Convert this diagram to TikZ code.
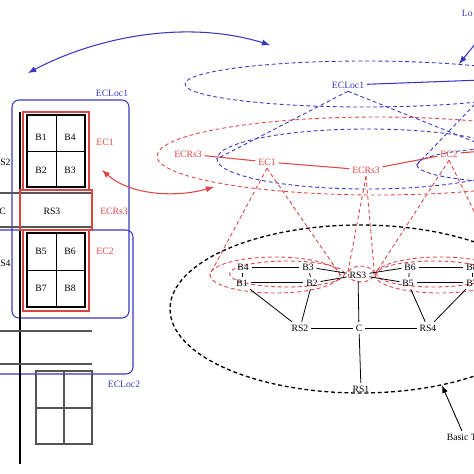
\documentclass[tikz,border=0pt]{standalone}
\usepackage{fontspec}
\setmainfont{Liberation Serif}
\usetikzlibrary{shapes}
\usetikzlibrary{arrows}
\definecolor{locblue}{RGB}{55,55,195}
\definecolor{ecred}{RGB}{222,68,68}
\definecolor{rsgray}{RGB}{85,85,85}

\begin{document}
\begin{tikzpicture}[x=0.02cm,y=-0.02cm,
  every node/.style={font=\fontsize{5.5}{6.5}\selectfont,inner sep=1.5pt},
  redlbl/.style={text=ecred},
  bluelbl/.style={text=locblue},
  rdash/.style={draw=ecred,dash pattern=on 2.2pt off 1.6pt,line width=0.5pt},
  bdash/.style={draw=locblue,dash pattern=on 2.2pt off 1.6pt,line width=0.5pt},
  kdash/.style={draw=black,dash pattern=on 2.2pt off 1.6pt,line width=0.75pt},
  ring/.style={ellipse,inner sep=0pt},
  edge/.style={black,line width=0.45pt},
  dbl/.style={black,double,double distance=0.5pt,line width=0.35pt}
  ]
\useasboundingbox (0,0) rectangle (474,474);

% left panel: location boxes
\draw[locblue,rounded corners=4,line width=0.6pt] (12,100) rectangle (129,318);
\draw[locblue,rounded corners=4,line width=0.6pt] (-10,230) rectangle (133,374);
\node[bluelbl] (loclbla) at (112,93) {ECLoc1};
\node[bluelbl] (loclblb) at (124,384) {ECLoc2};

\draw[black,line width=1pt] (20,112) -- (20,464);
\draw[rsgray,line width=0.9pt] (0,193) -- (92,193) (0,227) -- (92,227)
  (0,331) -- (92,331) (0,364) -- (92,364);

\draw[ecred,line width=0.7pt] (23,112) rectangle (89,190);
\draw[ecred,line width=0.6pt] (20,190) rectangle (92,230);
\draw[ecred,line width=0.7pt] (23,230) rectangle (89,311);

% cluster EC1
\draw[line width=0.9pt] (27,115) rectangle (85,187);
\draw[line width=0.5pt] (56,115) -- (56,187) (27,151) -- (85,151);
\node (pb1) at (41,137) {B1};
\node (pb4) at (70,137) {B4};
\node (pb2) at (41,170) {B2};
\node (pb3) at (70,170) {B3};
% cluster EC2
\draw[line width=0.9pt] (27,233) rectangle (85,307);
\draw[line width=0.5pt] (56,233) -- (56,307) (27,270) -- (85,270);
\node (pb5) at (41,251) {B5};
\node (pb6) at (70,251) {B6};
\node (pb7) at (41,288) {B7};
\node (pb8) at (70,288) {B8};
% empty cluster
\draw[rsgray,line width=0.7pt] (36,371) rectangle (92,444);
\draw[rsgray,line width=0.6pt] (64,371) -- (64,444) (36,408) -- (92,408);

\node (prs3) at (52,211) {RS3};
\node[anchor=west,inner sep=0pt] (prs2) at (0,162) {S2};
\node[anchor=west,inner sep=0pt] (prs4) at (0,263) {S4};
\node[anchor=west,inner sep=0pt] (pc) at (-1,211) {C};
\node[redlbl] (pec1) at (105,142) {EC1};
\node[redlbl] (pecrs) at (114,211) {ECRs3};
\node[redlbl] (pec2) at (105,251) {EC2};

% arrows between the views
\coordinate (topl) at (28,73);
\coordinate (topr) at (270,45);
\draw[locblue,latex-latex,line width=0.6pt] (topl) .. controls (100,35) and (190,20) .. (topr);
\coordinate (redl) at (102,170);
\coordinate (redr) at (214,187);
\draw[ecred,latex-latex,line width=0.6pt] (redl) .. controls (130,195) and (175,198) .. (redr);

% location and cluster rings
\node[ring,bdash,minimum width=7.2cm,minimum height=0.92cm] (locring) at (365,84) {};
\node[ring,rdash,minimum width=8.8cm,minimum height=1.56cm] (rsring) at (377,156) {};
\node[ring,bdash,minimum width=6cm,minimum height=1.2cm] (locringa) at (367,159) {};
\node[ring,bdash,minimum width=4.52cm,minimum height=0.72cm] (locringb) at (530,165) {};
\node[ring,kdash,minimum width=7.6cm,minimum height=3.36cm] (basic) at (360,309) {};
\node[ring,rdash,minimum width=2.6cm,minimum height=0.72cm] (ecringa) at (275,275) {};
\node[ring,rdash,minimum width=2.3cm,minimum height=0.52cm] (ecringaa) at (287,274) {};
\node[ring,rdash,minimum width=0.52cm,minimum height=0.32cm] (ecringr) at (361,274) {};
\node[ring,rdash,minimum width=2.6cm,minimum height=0.72cm] (ecringb) at (440,275) {};
\node[ring,rdash,minimum width=2.3cm,minimum height=0.52cm] (ecringbb) at (434,274) {};

% labels of the logical view
\node[bluelbl] (lloc) at (348,85) {ECLoc1};
\node[redlbl] (lecrsa) at (188,154) {ECRs3};
\node[redlbl] (lec1) at (267,162) {EC1};
\node[redlbl] (lecrsb) at (366,170) {ECRs3};
\node[redlbl] (lec2) at (449,154) {EC2};
\node[bluelbl,anchor=west] (llo) at (459,13) {Lo};
\node[anchor=west] (lbasic) at (444,437) {Basic T};

\coordinate (offblue) at (482,80);
\coordinate (offred) at (482,151);
\coordinate (offloc) at (520,57);
\coordinate (offlo) at (480,38);

\draw[locblue,line width=0.6pt] (lloc) -- (offblue);
\draw[ecred,line width=0.6pt] (lecrsa) -- (lec1) -- (lecrsb) -- (lec2) -- (offred);
\draw[bdash] (lloc.south) -- (locringa.west);
\draw[bdash] (lloc.south) -- (locringa.east);
\draw[bdash] (locringb.west) -- (offloc);
\draw[locblue,-latex,line width=0.6pt] (offlo) -- (locring.12);
\draw[rdash] (lec1.south) -- (ecringa.west);
\draw[rdash] (lec1.south) -- (ecringa.east);
\draw[rdash] (lecrsb.south) -- (ecringr.west);
\draw[rdash] (lecrsb.south) -- (ecringr.east);
\draw[rdash] (lec2.south) -- (ecringb.west);
\draw[rdash] (lec2.south) -- (ecringb.east);
\draw[black,-latex,line width=0.5pt] (lbasic.north) -- (basic.-43);

% basic tree
\node (b4) at (243,267) {B4};
\node (b3) at (308,267) {B3};
\node (b1) at (242,283) {B1};
\node (b2) at (312,283) {B2};
\node (rs3) at (358,275) {RS3};
\node (b6) at (410,267) {B6};
\node (b5) at (408,283) {B5};
\node (b8) at (472,267) {B8};
\node (b7) at (472,283) {B7};
\node (rs2) at (300,328) {RS2};
\node (c) at (359,328) {C};
\node (rs4) at (428,328) {RS4};
\node (rs1) at (361,389) {RS1};

\draw[edge] (b4) -- (b3);
\draw[edge] (b4) -- (b1);
\draw[edge] (b3) -- (b2);
\draw[dbl] (b1) -- (b2);
\draw[edge] (b1) -- (rs2);
\draw[edge] (b2) -- (rs2);
\draw[edge] (b3) -- (rs3);
\draw[edge] (b2) -- (rs3);
\draw[edge] (rs3) -- (b6);
\draw[edge] (rs3) -- (b5);
\draw[edge] (b6) -- (b8);
\draw[edge] (b6) -- (b5);
\draw[edge] (b8) -- (b7);
\draw[dbl] (b5) -- (b7);
\draw[edge] (b5) -- (rs4);
\draw[edge] (b7) -- (rs4);
\draw[edge] (rs2) -- (c);
\draw[edge] (c) -- (rs4);
\draw[edge] (rs3) -- (c);
\draw[edge] (c) -- (rs1);
\end{tikzpicture}
\end{document}
